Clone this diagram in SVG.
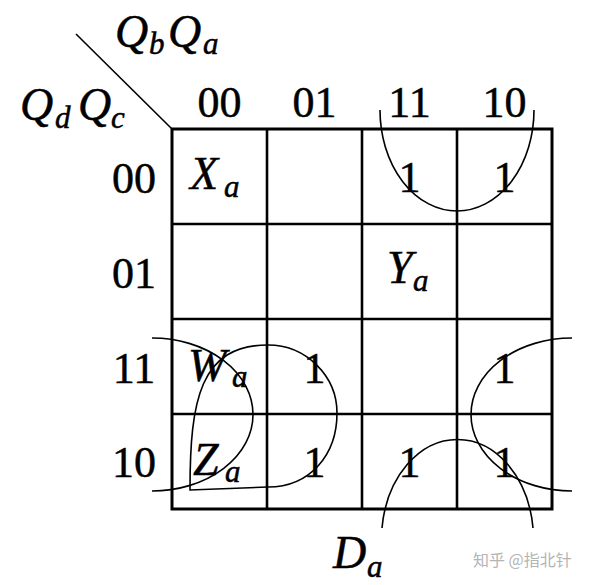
<svg xmlns="http://www.w3.org/2000/svg" width="600" height="585" viewBox="0 0 600 585">
<style>
.num{font-family:"Liberation Serif",serif;font-size:44px;fill:#000;stroke:#000;stroke-width:0.5}
.it{font-family:"Liberation Serif",serif;font-style:italic;font-size:46px;fill:#000;stroke:#000;stroke-width:0.5}
.sub{font-size:31px}
.mid{text-anchor:middle}
.grid{stroke:#000;fill:none}
.loop{stroke:#000;stroke-width:1.6;fill:none}
.wm{font-family:"Noto Sans CJK SC","Noto Sans",sans-serif;font-size:16px;fill:#b4b4b4}
</style>
<rect width="600" height="585" fill="#fff"/>
<g id="grid">
<path class="grid" stroke-width="2.6" d="M267,129V509M362,129V509M457,129V509M172,224H552M172,319H552M172,414H552"/>
<rect class="grid" stroke-width="3" x="172" y="129" width="380" height="380"/>
<line x1="76" y1="34" x2="172" y2="129" stroke="#000" stroke-width="1.6"/>
</g>
<g id="axis-labels">
<text class="it" x="115" y="47">Q<tspan class="sub" x="149" y="54">b</tspan><tspan x="168" y="47">Q</tspan><tspan class="sub" x="203" y="54">a</tspan></text>
<text class="it" x="20" y="120">Q<tspan class="sub" x="55" y="128">d</tspan><tspan x="78" y="120">Q</tspan><tspan class="sub" x="111" y="128">c</tspan></text>
</g>
<g id="col-headers">
<text class="num mid" x="219.5" y="117">00</text>
<text class="num mid" x="314.5" y="117">01</text>
<text class="num mid" x="409.5" y="117">11</text>
<text class="num mid" x="504.5" y="117">10</text>
</g>
<g id="row-headers">
<text class="num mid" x="134" y="193">00</text>
<text class="num mid" x="134" y="288">01</text>
<text class="num mid" x="134" y="383">11</text>
<text class="num mid" x="134" y="477">10</text>
</g>
<g id="cells">
<text class="it" x="190" y="189">X<tspan class="sub" x="224" y="197">a</tspan></text>
<text class="it" x="387" y="283">Y<tspan class="sub" x="413" y="291">a</tspan></text>
<text class="it" x="188" y="381">W<tspan class="sub" x="232" y="387">a</tspan></text>
<text class="it" x="193" y="475">Z<tspan class="sub" x="225" y="482">a</tspan></text>
<text class="num mid" x="409.5" y="192">1</text>
<text class="num mid" x="504.5" y="192">1</text>
<text class="num mid" x="314.5" y="383">1</text>
<text class="num mid" x="504.5" y="383">1</text>
<text class="num mid" x="314.5" y="477">1</text>
<text class="num mid" x="409.5" y="477">1</text>
<text class="num mid" x="504.5" y="477">1</text>
</g>
<g id="loops">
<path class="loop" d="M380,110 A77,101 0 0 0 534,110"/>
<path class="loop" d="M382,528 A76,100 0 0 1 533,528"/>
<path class="loop" d="M572,338 A101,76.5 0 0 0 572,491"/>
<path class="loop" d="M152,338 A101,76.5 0 0 1 152,491"/>
<path class="loop" d="M190,490 C190,400 200,345 268,345 C306,345 337,376 337,413 C337,455 310,487 268,487 L190,490 Z"/>
</g>
<g id="output-label">
<text class="it" x="333" y="568">D<tspan class="sub" x="367" y="577">a</tspan></text>
</g>
<text class="wm" x="473" y="566">知乎 @指北针</text>
</svg>
